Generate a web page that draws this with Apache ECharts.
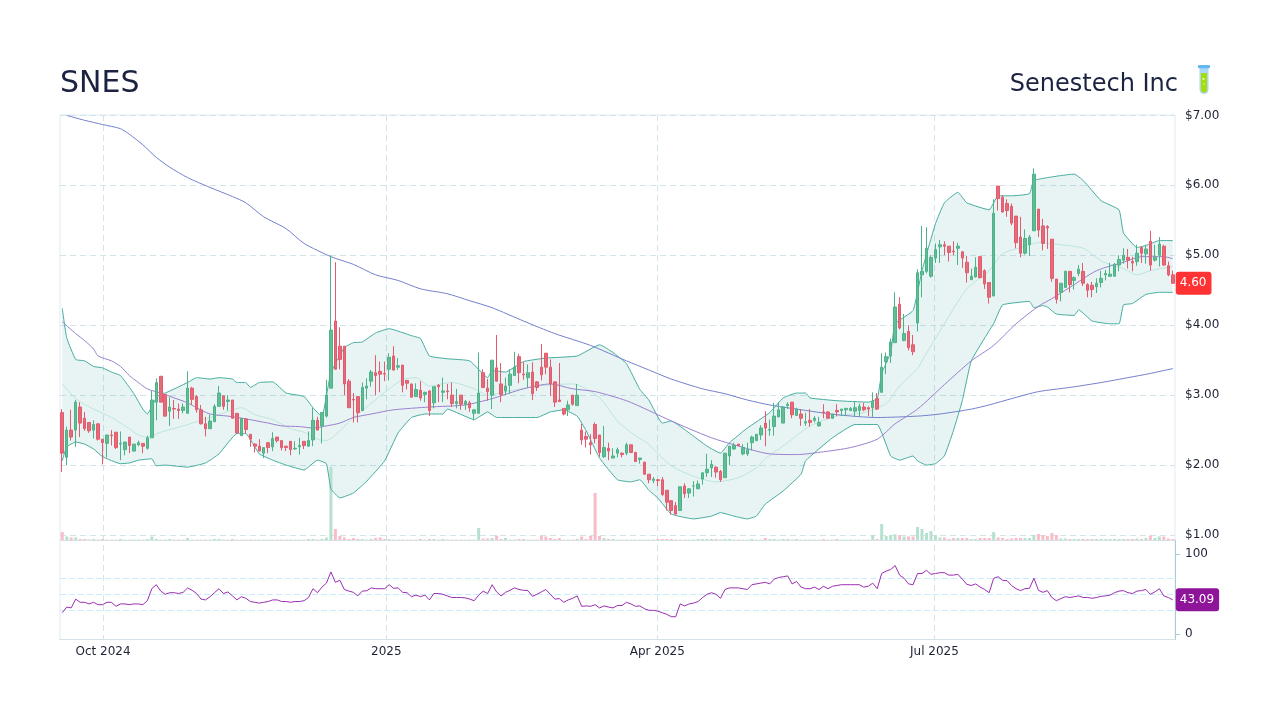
<!DOCTYPE html>
<html><head><meta charset="utf-8"><style>html,body{margin:0;padding:0;background:#fff}#c{width:1280px;height:720px}</style>
<script src="https://cdn.jsdelivr.net/npm/echarts@6/dist/echarts.min.js"></script></head><body><div id="c"></div>
<script>
const symbolName = 'SNES', companyName = 'Senestech Inc';
const priceTicks = ['$1.00','$2.00','$3.00','$4.00','$5.00','$6.00','$7.00'];
const tickDates = ['2024-10-01','2025-01-02','2025-04-01','2025-07-01'];
const tickLabels = ['Oct 2024','2025','Apr 2025','Jul 2025'];
const opens = [
2.75,2.11,2.50,2.50,2.83,2.67,2.61,2.50,2.59,2.37,
2.31,2.43,2.47,2.30,2.22,2.40,2.20,2.29,2.31,2.24,
2.39,2.90,3.27,3.01,2.77,2.81,2.80,2.78,2.74,3.10,
2.98,2.79,2.59,2.52,2.62,2.84,2.99,2.91,2.93,2.74,
2.42,2.66,2.44,2.30,2.27,2.17,2.32,2.26,2.40,2.35,
2.27,2.34,2.23,2.26,2.34,2.27,2.36,2.64,2.56,2.70,
3.10,4.06,3.70,3.70,3.20,2.94,2.98,2.78,3.10,3.20,
3.32,3.34,3.31,3.37,3.56,3.40,3.43,3.21,3.16,2.98,
3.07,3.01,3.06,2.89,3.14,3.04,3.06,3.00,2.88,3.00,
2.87,2.89,2.74,2.74,3.32,3.10,3.00,3.39,3.16,3.06,
3.14,3.28,3.55,3.30,3.25,3.33,3.19,3.40,3.60,3.40,
3.19,2.93,2.81,2.79,3.00,2.85,2.50,2.41,2.32,2.58,
2.43,2.12,2.24,2.10,2.17,2.17,2.17,2.29,2.18,2.08,
2.04,1.87,1.78,1.79,1.79,1.64,1.49,1.42,1.35,1.70,
1.60,1.70,1.66,1.80,1.89,1.96,1.97,1.91,1.82,2.13,
2.23,2.30,2.16,2.16,2.32,2.35,2.43,2.60,2.50,2.55,
2.69,2.60,2.85,2.90,2.71,2.73,2.60,2.64,2.64,2.56,
2.76,2.76,2.67,2.78,2.78,2.79,2.78,2.77,2.78,2.83,
2.82,2.82,2.95,3.04,3.48,3.56,3.75,4.30,3.78,3.91,
3.72,4.03,4.72,4.77,4.70,4.96,5.12,5.15,5.13,5.06,
5.10,5.05,4.90,4.65,4.69,4.98,4.78,4.61,4.42,5.99,
5.83,5.74,5.70,5.56,5.26,5.03,5.15,5.35,5.66,5.42,
5.41,5.23,4.66,4.47,4.54,4.77,4.64,4.74,4.77,4.58,
4.57,4.55,4.61,4.72,4.70,4.70,4.86,4.93,4.97,4.91,
4.91,5.11,5.02,5.20,4.93,5.00,5.13,4.85,4.72];
const closes = [
2.17,2.50,2.40,2.90,2.60,2.52,2.49,2.58,2.37,2.32,
2.43,2.42,2.25,2.31,2.33,2.28,2.30,2.32,2.27,2.39,
2.93,3.18,2.90,2.70,2.83,2.80,2.78,2.83,3.10,2.94,
2.79,2.59,2.52,2.63,2.84,3.03,2.84,2.93,2.67,2.46,
2.67,2.51,2.37,2.27,2.20,2.25,2.25,2.38,2.35,2.25,
2.25,2.22,2.24,2.28,2.28,2.35,2.64,2.50,2.75,3.00,
3.93,3.37,3.51,3.16,2.82,2.93,2.75,3.11,3.13,3.33,
3.28,3.30,3.30,3.54,3.36,3.42,3.14,3.17,2.97,3.08,
2.96,3.04,2.78,3.12,3.12,3.06,3.05,2.88,2.91,2.87,
2.91,2.82,2.79,3.03,3.11,3.05,3.50,3.20,3.01,3.13,
3.30,3.40,3.32,3.29,3.32,3.02,3.11,3.29,3.40,3.16,
2.90,2.91,2.73,2.86,2.87,3.00,2.36,2.37,2.29,2.38,
2.18,2.25,2.20,2.13,2.22,2.15,2.29,2.18,2.05,2.10,
1.87,1.79,1.80,1.78,1.58,1.47,1.35,1.30,1.69,1.59,
1.66,1.70,1.73,1.89,1.94,2.01,1.90,1.79,2.17,2.27,
2.28,2.28,2.25,2.22,2.40,2.44,2.53,2.53,2.51,2.70,
2.79,2.83,2.87,2.72,2.80,2.67,2.62,2.61,2.67,2.61,
2.75,2.67,2.73,2.76,2.80,2.81,2.81,2.82,2.84,2.79,
2.80,2.91,2.80,3.40,3.55,3.76,4.26,3.96,3.88,3.68,
3.62,4.75,4.77,5.10,4.97,5.08,5.15,5.13,5.04,5.05,
5.13,4.96,4.75,4.70,4.83,4.68,4.59,4.40,5.60,5.81,
5.62,5.64,5.46,5.18,5.03,5.24,5.26,6.16,5.36,5.17,
5.39,4.67,4.37,4.60,4.77,4.58,4.68,4.80,4.60,4.50,
4.51,4.60,4.67,4.74,4.73,4.87,4.94,5.00,4.93,4.89,
5.03,5.03,5.09,4.86,4.97,5.16,4.86,4.72,4.60];
const lows = [
1.90,2.00,2.35,2.26,2.40,2.49,2.46,2.38,2.35,2.01,
2.11,2.28,2.23,2.07,2.14,2.17,2.20,2.27,2.17,2.22,
2.39,2.64,2.90,2.69,2.56,2.66,2.66,2.74,2.74,2.86,
2.75,2.58,2.41,2.52,2.62,2.83,2.79,2.78,2.66,2.45,
2.42,2.45,2.26,2.18,2.20,2.10,2.17,2.20,2.32,2.21,
2.20,2.14,2.22,2.15,2.23,2.26,2.27,2.50,2.31,2.68,
3.10,3.37,3.37,3.00,2.82,2.61,2.61,2.77,2.94,3.12,
3.00,3.04,3.20,3.21,3.35,3.36,3.04,3.08,2.97,2.98,
2.92,2.90,2.70,2.81,2.90,2.90,2.94,2.83,2.81,2.79,
2.79,2.76,2.64,2.74,3.10,2.92,2.80,3.20,2.90,3.01,
3.02,3.28,3.17,3.22,3.11,2.93,3.06,3.21,3.30,2.99,
2.83,2.90,2.71,2.70,2.85,2.85,2.29,2.25,2.15,2.31,
2.12,2.10,2.07,2.10,2.11,2.11,2.14,2.17,2.05,2.02,
1.86,1.74,1.74,1.70,1.56,1.35,1.29,1.29,1.35,1.53,
1.53,1.55,1.66,1.72,1.83,1.83,1.82,1.76,1.82,2.00,
2.22,2.27,2.14,2.13,2.21,2.34,2.36,2.27,2.42,2.42,
2.68,2.60,2.80,2.67,2.70,2.56,2.56,2.55,2.61,2.55,
2.67,2.66,2.66,2.70,2.70,2.70,2.77,2.70,2.69,2.77,
2.70,2.69,2.79,3.04,3.30,3.46,3.75,3.94,3.77,3.64,
3.57,3.91,4.40,4.74,4.68,4.89,4.89,5.00,4.91,5.00,
4.86,4.82,4.61,4.65,4.68,4.67,4.52,4.31,4.41,5.64,
5.61,5.55,5.43,5.10,4.97,5.01,4.99,5.35,5.26,5.07,
5.09,4.62,4.31,4.34,4.54,4.47,4.51,4.70,4.56,4.40,
4.40,4.46,4.54,4.64,4.69,4.70,4.77,4.88,4.81,4.77,
4.85,4.89,4.88,4.78,4.91,4.84,4.85,4.70,4.59];
const highs = [
2.80,2.55,2.79,2.93,2.90,2.76,2.61,2.64,2.59,2.37,
2.43,2.50,2.47,2.48,2.33,2.40,2.30,2.35,2.31,2.42,
3.06,3.24,3.27,3.01,2.97,2.93,2.88,2.88,3.34,3.12,
3.00,2.86,2.69,2.72,2.87,3.13,2.99,3.00,2.93,2.74,
2.67,2.67,2.44,2.31,2.37,2.25,2.33,2.47,2.40,2.35,
2.27,2.34,2.34,2.39,2.34,2.48,2.82,2.69,2.75,3.22,
5.00,4.90,3.97,3.70,3.23,3.03,2.98,3.18,3.24,3.36,
3.57,3.48,3.48,3.60,3.70,3.53,3.43,3.21,3.16,3.17,
3.20,3.05,3.07,3.12,3.16,3.25,3.16,3.18,3.09,3.00,
2.93,2.92,2.79,3.61,3.37,3.23,3.50,3.86,3.46,3.25,
3.37,3.62,3.59,3.47,3.44,3.47,3.20,3.73,3.60,3.51,
3.19,3.46,2.81,2.92,3.00,3.16,2.59,2.48,2.44,2.61,
2.43,2.56,2.32,2.24,2.25,2.18,2.32,2.29,2.19,2.10,
2.05,1.87,1.83,1.80,1.83,1.64,1.49,1.47,1.69,1.74,
1.67,1.77,1.78,1.89,2.16,2.07,1.98,1.93,2.17,2.27,
2.32,2.30,2.30,2.32,2.42,2.44,2.57,2.77,2.65,2.89,
2.90,2.84,2.90,2.90,2.82,2.80,2.75,2.80,2.70,2.69,
2.87,2.77,2.73,2.87,2.80,2.82,2.83,2.90,2.88,2.89,
2.84,3.04,3.03,3.60,3.61,3.81,4.47,4.40,4.16,4.00,
3.86,4.80,5.42,5.40,5.00,5.17,5.22,5.20,5.13,5.20,
5.18,5.05,4.99,4.81,4.97,4.99,4.80,4.61,5.80,5.99,
5.86,5.80,5.74,5.56,5.55,5.37,5.29,6.24,5.66,5.52,
5.43,5.23,4.66,4.60,4.78,4.77,4.70,4.86,4.89,4.60,
4.62,4.67,4.78,4.79,4.89,4.89,5.00,5.10,5.09,4.98,
5.15,5.13,5.15,5.35,5.15,5.26,5.15,4.91,4.78];
const volumes = [
8,3.5,2.5,2.5,1,1,.5,1,.4,1,
.4,.4,.4,1,.4,.4,.4,.4,.4,1,
3.5,1,.4,.4,1,.4,.4,.4,2,.4,
.4,.4,.4,.4,1,1,.4,.4,1,.4,
.4,.4,.4,.4,.4,.4,.4,.4,.4,.4,
.4,.4,.4,.4,.4,1,1,.4,1,2.5,
73,11,4,2.5,1,2,1,1,.4,1,
2,2.5,1,1,.4,.4,.4,.4,.4,.4,
1,.4,1,1,.4,1,.4,.4,.4,.4,
.4,.4,.4,12,1.5,1.5,2,4.5,1,2,
.4,.4,1,1,.4,.4,.4,4.3,3.5,2,
1,2,.4,.4,.4,1,3.5,1,4,47,
4,2,1,1,.4,.4,.4,.4,.4,.4,
.4,.4,.4,1,1,1,1,.4,.4,.4,
.4,.4,1,1,1,1,1,.4,1,1,
.4,.4,.4,.4,1,.4,.4,2,1,1,
.4,1,1,.4,1,.4,.4,.4,.4,.4,
1,.4,.4,1,.4,.4,.4,.4,.4,.4,
.4,5,1,16,4,5,5.7,5,3.5,3.5,
3.5,13,11,7,9,5,2.5,2.5,1,2,
2,2,2,1,1,2,2,2,8,2.5,
2,1,1.5,2,2,2,2,5,6,5,
4,7,5,1.5,1.5,1,1,1,1,1,
1,1,1,1,1,1,1,1,1,1,
1.5,1,2,4.5,2,3.5,3.5,1.5,1];
const rsi = [
27,34,33,44,40,40,38,40,37,37,
40,40,35,38,38,37,38,38,37,42,
57,62,54,50,52,52,51,52.5,58,55,
51,44,43,47,52,57,51,53,48,43,
47,45,41,40,39,40,41,43,43,41,
41,40,41,41,42,46,57,52,59,64,
78,65,67.5,56,54,52.5,48,54,54.5,58,
57,57,57,62,57.5,58,52.5,52,47,49,
47,49,43,51,51,50,48,46,46,46,
45.5,44,42,49,54,51,62,53,48,52.5,
55,58,56,55,54.6,47.5,50,53,56,50,
44,44.6,40,43,45,48,35,35.5,35,37,
33,35.5,34,33,36,36,40,38,35,35.5,
32,30,30,29,27,25,22,22,38,35.5,
38,39,41,46,50,52,50,45,56,58,
58,58,57,56,62,63,64,65,63,69,
71,72,73,63,66,59,57,57,59,56,
60,57,60,61,62,62,62,62,62,59,
60,64,57,76,79,81,86,74,70,63,
62,76,76,80,75,76,77,77,74,74,
75,69,62.5,61,63,59,56,52,70,72,
67.5,67,61,57,54.6,57,57.5,70,55,52.5,
54.6,46,42,44.6,47,46,47,48,46,46,
45,46,47.5,48,49,52,54,54.6,52,51,
54,54.6,56,50,53,57,48,46,43.09];
const smaLong = [[1,7.0],[5,6.93],[9,6.87],[13,6.81],[15,6.73],[18,6.58],[21,6.40],[24,6.26],[28,6.11],[33,5.97],[38,5.84],[41,5.75],[45,5.55],[50,5.38],[54,5.17],[60,4.98],[65,4.87],[70,4.72],[75,4.64],[80,4.52],[86,4.45],[91,4.35],[96,4.25],[103,4.06],[110,3.88],[118,3.71],[126,3.49],[131,3.36],[136,3.23],[143,3.09],[148,3.02],[153,2.93],[158,2.86],[164,2.80],[173,2.72],[182,2.68],[191,2.70],[196,2.73],[203,2.80],[207,2.86],[212,2.95],[218,3.05],[225,3.11],[232,3.18],[238,3.25],[243,3.31],[248,3.38]];
const smaShort = [[0,4.05],[3,3.88],[5,3.78],[7,3.66],[8,3.56],[11,3.49],[13,3.41],[15,3.28],[17,3.18],[19,3.09],[22,3.03],[25,2.96],[28,2.89],[30,2.82],[33,2.73],[37,2.70],[41,2.66],[46,2.60],[49,2.56],[53,2.55],[56,2.53],[59,2.56],[62,2.60],[65,2.68],[69,2.73],[74,2.79],[82,2.83],[90,2.86],[96,2.95],[103,3.09],[109,3.16],[114,3.09],[119,3.05],[126,2.92],[131,2.78],[135,2.66],[140,2.52],[145,2.39],[150,2.29],[158,2.16],[164,2.15],[170,2.19],[176,2.25],[182,2.37],[186,2.59],[191,2.80],[197,3.15],[203,3.49],[208,3.71],[213,4.02],[218,4.27],[221,4.38],[225,4.54],[231,4.78],[237,4.90],[241,4.98],[246,4.98],[248,4.95]];
const bbUpper = [[0,4.24],[1,3.82],[3,3.51],[5,3.49],[7,3.41],[9,3.39],[11,3.33],[13,3.28],[16,3.02],[18,2.80],[19,2.73],[21,2.96],[22,3.02],[23,3.03],[28,3.18],[30,3.25],[33,3.23],[35,3.25],[38,3.23],[39,3.18],[41,3.18],[42,3.11],[44,3.18],[47,3.19],[50,3.03],[54,2.98],[56,2.82],[58,2.69],[59,2.99],[60,3.32],[63,3.68],[65,3.75],[67,3.76],[70,3.89],[73,3.95],[78,3.85],[80,3.81],[82,3.56],[86,3.52],[91,3.49],[95,3.25],[96,3.35],[99,3.33],[103,3.48],[108,3.53],[115,3.56],[120,3.72],[123,3.61],[126,3.45],[129,3.08],[131,2.93],[134,2.60],[136,2.63],[140,2.46],[144,2.27],[147,2.17],[149,2.32],[153,2.53],[158,2.75],[161,2.96],[164,3.03],[166,3.03],[167,2.96],[173,2.92],[180,2.90],[182,2.95],[183,3.31],[185,3.61],[186,4.02],[190,4.21],[192,4.78],[195,5.45],[197,5.75],[200,5.90],[202,5.75],[207,5.65],[209,5.85],[212,5.85],[216,5.88],[217,6.07],[226,6.16],[228,6.07],[232,5.78],[236,5.65],[237,5.32],[240,5.11],[242,5.14],[245,5.21],[248,5.21]];
const bbLower = [[0,2.06],[1,2.26],[3,2.33],[5,2.30],[7,2.23],[9,2.12],[13,2.02],[15,2.03],[17,2.07],[20,2.09],[21,1.99],[23,2.00],[28,1.97],[32,2.03],[35,2.16],[39,2.45],[41,2.45],[44,2.16],[47,2.07],[50,2.00],[54,1.93],[57,2.07],[59,2.02],[60,1.66],[62,1.53],[65,1.60],[68,1.77],[72,2.06],[75,2.46],[78,2.68],[81,2.73],[85,2.73],[86,2.80],[92,2.65],[95,2.76],[97,2.68],[106,2.68],[109,2.76],[112,2.79],[115,2.70],[117,2.49],[120,2.10],[124,1.79],[127,1.76],[129,1.79],[131,1.64],[133,1.53],[136,1.30],[141,1.23],[145,1.27],[147,1.32],[150,1.27],[153,1.23],[155,1.27],[157,1.44],[161,1.63],[165,1.87],[166,2.06],[172,2.39],[177,2.58],[182,2.58],[185,2.13],[187,2.07],[190,2.13],[191,2.06],[193,2.00],[195,2.02],[197,2.13],[199,2.49],[201,2.92],[203,3.49],[207,3.92],[208,4.02],[210,4.29],[216,4.34],[217,4.25],[219,4.28],[220,4.26],[222,4.16],[226,4.14],[227,4.22],[230,4.06],[234,4.02],[236,4.02],[237,4.29],[239,4.31],[242,4.44],[245,4.47],[248,4.47]];
const bbMid = [[0,3.16],[3,2.95],[7,2.80],[11,2.68],[15,2.52],[17,2.43],[19,2.40],[22,2.47],[27,2.56],[30,2.62],[34,2.70],[38,2.79],[40,2.82],[43,2.72],[47,2.65],[51,2.52],[54,2.47],[57,2.37],[59,2.35],[62,2.49],[65,2.68],[67,2.78],[73,3.09],[76,3.22],[79,3.25],[82,3.13],[87,3.18],[92,3.09],[95,3.00],[100,3.06],[106,3.13],[114,3.16],[120,2.96],[124,2.63],[128,2.42],[131,2.30],[132,2.23],[136,1.99],[141,1.84],[146,1.76],[151,1.82],[155,1.96],[157,2.09],[162,2.32],[167,2.56],[173,2.70],[179,2.75],[184,2.88],[187,3.13],[191,3.38],[192,3.49],[197,4.02],[202,4.52],[207,4.78],[210,5.02],[214,5.11],[218,5.18],[223,5.15],[228,5.10],[232,4.92],[237,4.81],[240,4.72],[243,4.78],[248,4.84]];

const categories = opens.map((_, i) => i);
const candleData = opens.map((o, i) => [o, closes[i], lows[i], highs[i]]);
const font = '"DejaVu Sans", sans-serif';
const DAY = 86400000;
const tickStamps = tickDates.map(d => Date.parse(d) / DAY);
const gridBase = { left: 60, right: 105 };
const line = (data, color, width, z, smooth) => ({ type: 'line', data, xAxisIndex: 0, yAxisIndex: 0, symbol: 'none', silent: true, z, smooth: smooth || false, lineStyle: { color, width } });

const chart = echarts.init(document.getElementById('c'), null, { renderer: 'canvas' });
chart.setOption({
  animation: false,
  backgroundColor: '#fff',
  textStyle: { fontFamily: font },
  title: [
    { text: symbolName, left: 55, top: 64, textStyle: { fontFamily: font, fontSize: 30, fontWeight: 'normal', color: '#1c2340' } },
    { text: companyName, right: 97, top: 68, textStyle: { fontFamily: font, fontSize: 24, fontWeight: 'normal', color: '#1c2340' } }
  ],
  graphic: [
    { type: 'rect', z: 10, shape: { x: 1199.5, y: 68, width: 9, height: 26, r: [0, 0, 4.5, 4.5] }, style: { fill: '#a9d7f5' } },
    { type: 'rect', z: 11, shape: { x: 1201, y: 73, width: 6, height: 19.5, r: [0, 0, 3, 3] }, style: { fill: '#a6dc0a' } },
    { type: 'rect', z: 12, shape: { x: 1198, y: 65, width: 12, height: 3.2, r: 1 }, style: { fill: '#62b8f2' } },
    { type: 'circle', z: 12, shape: { cx: 1203.5, cy: 79, r: 1 }, style: { fill: '#f3fbd0' } },
    { type: 'circle', z: 12, shape: { cx: 1204, cy: 84, r: 0.7 }, style: { fill: '#f3fbd0' } }
  ],
  grid: [
    { ...gridBase, top: 115.4, height: 419.6 },
    { ...gridBase, top: 465, height: 75 },
    { ...gridBase, top: 540, height: 99.5 },
    { ...gridBase, top: 115, height: 524.5, show: true, borderColor: '#dfecf1', borderWidth: 1, z: 0 }
  ],
  xAxis: [
    { type: 'category', data: categories, gridIndex: 0, show: false },
    { type: 'category', data: categories, gridIndex: 1, axisLine: { show: true, onZero: false, lineStyle: { color: '#d5e3e8' } }, axisTick: { show: false }, axisLabel: { show: false } },
    { type: 'category', data: categories, gridIndex: 2, axisLine: { show: true, onZero: false, lineStyle: { color: '#d5e3e8' } }, axisTick: { show: false }, axisLabel: { show: false } },
    {
      type: 'value', gridIndex: 3, min: Date.parse('2024-09-17') / DAY - 0.15, max: Date.parse('2025-09-18') / DAY,
      axisLine: { show: false },
      axisTick: { show: false, customValues: tickStamps },
      axisLabel: { show: true, customValues: tickStamps, margin: 6, color: '#1e2235', fontSize: 12, fontFamily: font, hideOverlap: false,
        formatter: v => tickLabels[tickStamps.indexOf(+v)] || '' },
      splitLine: { show: true, lineStyle: { color: '#d3e4ea', type: [6, 4], width: 1 } }
    }
  ],
  yAxis: [
    { type: 'value', gridIndex: 0, position: 'right', min: 1, max: 7, interval: 1,
      axisLine: { show: false }, axisTick: { show: false },
      axisLabel: { margin: 10, color: '#1e2235', fontSize: 12, fontFamily: font, formatter: v => priceTicks[Math.round(v) - 1] },
      splitLine: { show: true, lineStyle: { color: '#d3e4ea', type: [6, 4], width: 1 } } },
    { type: 'value', gridIndex: 1, min: 0, max: 75, show: false },
    { type: 'value', gridIndex: 2, position: 'right', min: -6.5, max: 117.9,
      axisLine: { show: true, onZero: false, lineStyle: { color: '#a8cdd6' } },
      axisTick: { show: true, length: 5, lineStyle: { color: '#a8cdd6' }, customValues: [0, 100] },
      axisLabel: { show: true, margin: 10, color: '#1e2235', fontSize: 12, fontFamily: font, customValues: [0, 100] },
      splitLine: { show: false } },
    { type: 'value', gridIndex: 3, min: 0, max: 1, show: false }
  ],
  series: [
    { type: 'custom', xAxisIndex: 0, yAxisIndex: 0, data: [[0, 1]], z: 1, silent: true, clip: false,
      renderItem: (params, api) => {
        const pts = bbUpper.concat(bbLower.slice().reverse()).map(p => api.coord(p));
        return { type: 'polygon', shape: { points: pts }, style: { fill: 'rgba(40,150,150,0.105)', stroke: 'none' } };
      } },
    { type: 'bar', xAxisIndex: 1, yAxisIndex: 1, z: 2, silent: true, barWidth: 3,
      data: volumes.map((v, i) => ({ value: v, itemStyle: { color: closes[i] >= opens[i] ? '#b6e0cf' : '#f8bdc7' } })) },
    line(bbMid, '#bce6dc', 1, 3, 0.25),
    line(bbUpper, '#45ad9f', 1, 3, 0.12),
    line(bbLower, '#45ad9f', 1, 3, 0.12),
    line(smaLong, '#7480cc', 1, 3, 0.25),
    line(smaShort, '#9a80cf', 1, 3, 0.25),
    { type: 'candlestick', xAxisIndex: 0, yAxisIndex: 0, z: 4, silent: true, data: candleData, barWidth: 3,
      itemStyle: { color: '#62bc95', color0: '#e36c7a', borderColor: '#4cb388', borderColor0: '#e55a6c', borderWidth: 1 } },
    { type: 'line', xAxisIndex: 0, yAxisIndex: 0, data: closes, symbol: 'none', silent: true, z: 6,
      lineStyle: { opacity: 0, width: 0 },
      endLabel: { show: true, distance: 3, formatter: p => Number(p.value).toFixed(2), color: '#fff', fontSize: 12, fontFamily: font,
        backgroundColor: '#ff3333', borderRadius: 3, padding: [6, 5, 5, 4] } },
    { type: 'line', xAxisIndex: 2, yAxisIndex: 2, data: rsi, symbol: 'none', silent: true, z: 5,
      lineStyle: { color: '#9a2fb0', width: 1 },
      markLine: { silent: true, symbol: 'none', label: { show: false }, animation: false,
        lineStyle: { color: '#c8ecfb', type: [6, 3], width: 1 },
        data: [{ yAxis: 30 }, { yAxis: 50 }, { yAxis: 70 }] },
      endLabel: { show: true, distance: 3, formatter: p => Number(p.value).toFixed(2), color: '#fff', fontSize: 12, fontFamily: font,
        backgroundColor: '#8e1599', borderRadius: 3, padding: [6, 5, 5, 4] } }
  ]
});
</script></body></html>
